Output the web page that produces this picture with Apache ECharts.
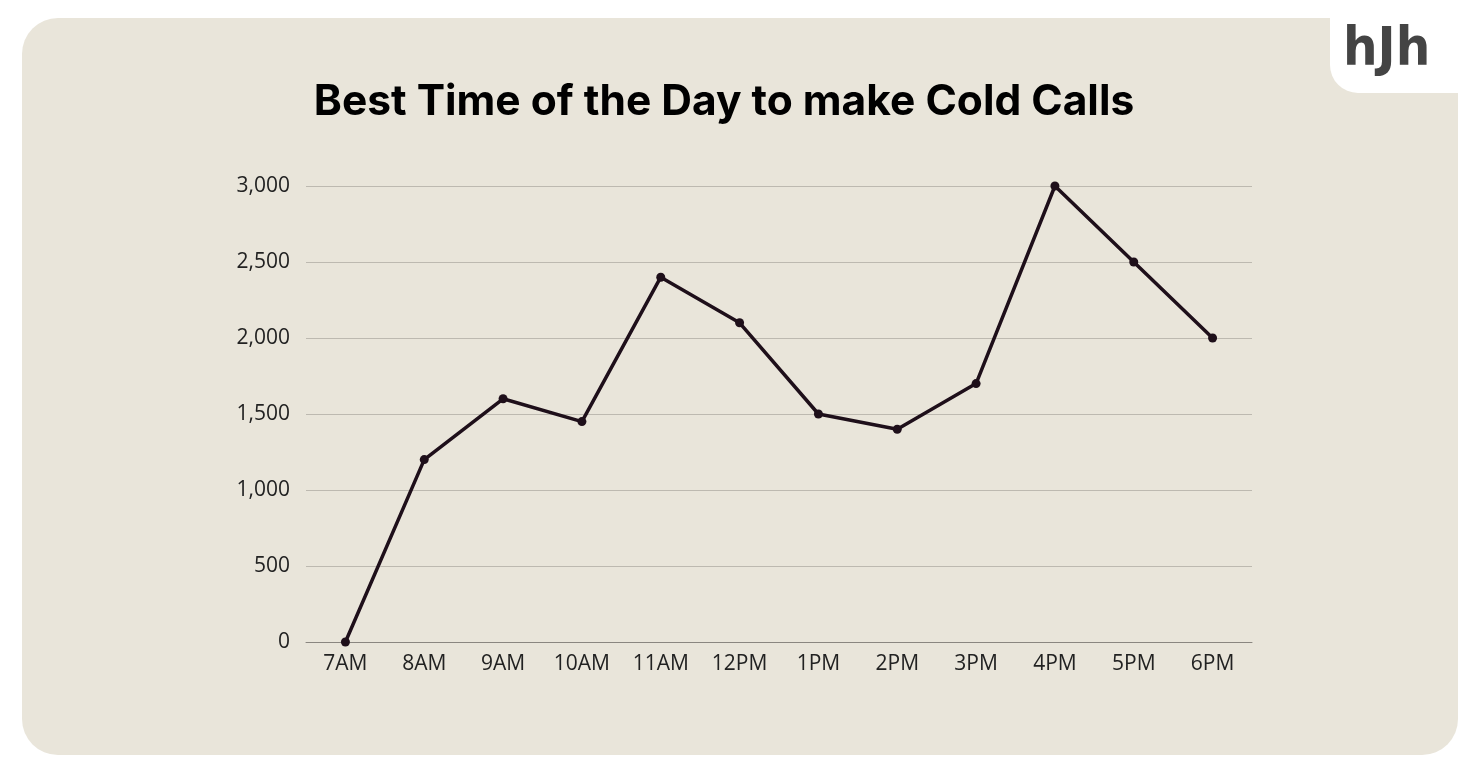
<!DOCTYPE html>
<html>
<head>
<meta charset="utf-8">
<script src="https://cdn.jsdelivr.net/npm/echarts@6/dist/echarts.min.js"></script>
<style>html,body{margin:0;padding:0;background:#fff;}#chart{width:1480px;height:774px;}</style>
</head>
<body>
<div id="chart"></div>
<script>
// 数据
var hours = ['7AM','8AM','9AM','10AM','11AM','12PM','1PM','2PM','3PM','4PM','5PM','6PM'];
var calls = [0, 1200, 1600, 1450, 2400, 2100, 1500, 1400, 1700, 3000, 2500, 2000];

var myChart = echarts.init(document.getElementById('chart'));

var option = {
    backgroundColor: '#ffffff',
    graphic: [
        {
            type: 'rect',
            shape: {x: 22, y: 18, width: 1436, height: 737, r: 36},
            style: {fill: '#e9e5da'},
            z: -10
        },
        {
            type: 'rect',
            shape: {x: 1330, y: 0, width: 150, height: 93, r: [0, 0, 0, 28]},
            style: {fill: '#ffffff'},
            z: -9
        },
        {
            type: 'text',
            left: 1343, top: 24,
            style: {text: 'hJh', fill: '#444444', font: 'bold 54px "DejaVu Sans Condensed"'}
        }
    ],
    title: {
        text: 'Best Time of the Day to make Cold Calls',
        left: 719, top: 76, textAlign: 'center',
        textStyle: {fontFamily: 'Inter', fontWeight: 'bold', fontSize: 42.5, color: '#000'}
    },
    grid: {left: 306, right: 228, top: 186, bottom: 132},
    xAxis: {
        type: 'category',
        data: hours,
        axisLine: {lineStyle: {color: '#8a8680'}},
        axisTick: {show: false},
        axisLabel: {color: '#222', fontSize: 21, fontFamily: 'Open Sans', margin: 12}
    },
    yAxis: {
        type: 'value',
        min: 0, max: 3000, interval: 500,
        axisLine: {show: false},
        axisTick: {show: false},
        axisLabel: {
            color: '#222', fontSize: 21, fontFamily: 'Open Sans', margin: 16,
            formatter: function (v) { return v.toLocaleString('en-US'); }
        },
        splitLine: {lineStyle: {color: '#bdb9b0', width: 1}}
    },
    series: [{
        type: 'line',
        data: calls,
        symbol: 'circle',
        symbolSize: 9,
        lineStyle: {color: '#1e0f1a', width: 3.5},
        itemStyle: {color: '#1e0f1a'},
        animation: false
    }]
};

myChart.setOption(option);
</script>
</body>
</html>
